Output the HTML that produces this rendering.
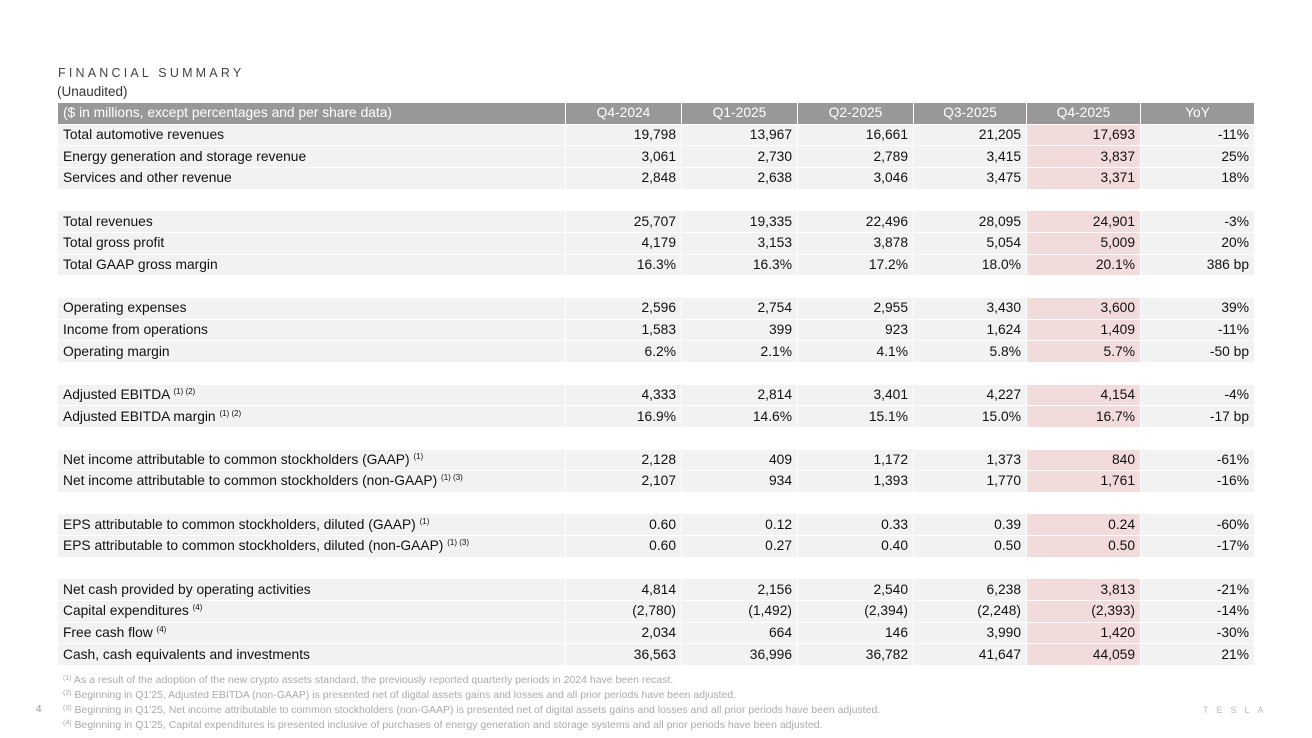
<!DOCTYPE html>
<html><head><meta charset="utf-8"><style>
body{margin:0;width:1312px;height:738px;background:#fff;font-family:"Liberation Sans",sans-serif;position:relative;overflow:hidden;color:#111}
.t{position:absolute;left:58px;top:66px;font-size:12.5px;letter-spacing:3.2px;color:#444}
.u{position:absolute;left:57px;top:84px;font-size:13.5px;color:#333}
table{position:absolute;left:57px;top:102px;width:1198px;border-collapse:separate;border-spacing:1px;table-layout:fixed}
tr{height:20.66px}
td{height:20.66px;padding:0 5px;font-size:13.8px;background:#f2f2f2;text-align:right;white-space:nowrap;line-height:18px;overflow:hidden;box-sizing:border-box}
td:first-child{text-align:left}
td.h{background:#989898;color:#fff;text-align:center}
td.h:first-child{text-align:left}
td.r{background:#f2dcdb}
tr.b td{background:#fff}
sup{font-size:8px;line-height:0;vertical-align:baseline;position:relative;top:-5px}
.f{position:absolute;left:63px;font-size:10.5px;color:#aaa;white-space:nowrap}
.f sup{font-size:7px;top:-3px}
</style></head><body>
<div class="t">FINANCIAL SUMMARY</div>
<div class="u">(Unaudited)</div>
<table>
<colgroup><col style="width:507px"><col style="width:115px"><col style="width:115px"><col style="width:115px"><col style="width:112px"><col style="width:113px"><col style="width:113px"></colgroup>
<tr><td class="h">($ in millions, except percentages and per share data)</td><td class="h">Q4-2024</td><td class="h">Q1-2025</td><td class="h">Q2-2025</td><td class="h">Q3-2025</td><td class="h">Q4-2025</td><td class="h">YoY</td></tr>
<tr><td>Total automotive revenues</td><td>19,798</td><td>13,967</td><td>16,661</td><td>21,205</td><td class="r">17,693</td><td>-11%</td></tr>
<tr><td>Energy generation and storage revenue</td><td>3,061</td><td>2,730</td><td>2,789</td><td>3,415</td><td class="r">3,837</td><td>25%</td></tr>
<tr><td>Services and other revenue</td><td>2,848</td><td>2,638</td><td>3,046</td><td>3,475</td><td class="r">3,371</td><td>18%</td></tr>
<tr class="b"><td></td><td></td><td></td><td></td><td></td><td></td><td></td></tr>
<tr><td>Total revenues</td><td>25,707</td><td>19,335</td><td>22,496</td><td>28,095</td><td class="r">24,901</td><td>-3%</td></tr>
<tr><td>Total gross profit</td><td>4,179</td><td>3,153</td><td>3,878</td><td>5,054</td><td class="r">5,009</td><td>20%</td></tr>
<tr><td>Total GAAP gross margin</td><td>16.3%</td><td>16.3%</td><td>17.2%</td><td>18.0%</td><td class="r">20.1%</td><td>386 bp</td></tr>
<tr class="b"><td></td><td></td><td></td><td></td><td></td><td></td><td></td></tr>
<tr><td>Operating expenses</td><td>2,596</td><td>2,754</td><td>2,955</td><td>3,430</td><td class="r">3,600</td><td>39%</td></tr>
<tr><td>Income from operations</td><td>1,583</td><td>399</td><td>923</td><td>1,624</td><td class="r">1,409</td><td>-11%</td></tr>
<tr><td>Operating margin</td><td>6.2%</td><td>2.1%</td><td>4.1%</td><td>5.8%</td><td class="r">5.7%</td><td>-50 bp</td></tr>
<tr class="b"><td></td><td></td><td></td><td></td><td></td><td></td><td></td></tr>
<tr><td>Adjusted EBITDA <sup>(1) (2)</sup></td><td>4,333</td><td>2,814</td><td>3,401</td><td>4,227</td><td class="r">4,154</td><td>-4%</td></tr>
<tr><td>Adjusted EBITDA margin <sup>(1) (2)</sup></td><td>16.9%</td><td>14.6%</td><td>15.1%</td><td>15.0%</td><td class="r">16.7%</td><td>-17 bp</td></tr>
<tr class="b"><td></td><td></td><td></td><td></td><td></td><td></td><td></td></tr>
<tr><td>Net income attributable to common stockholders (GAAP) <sup>(1)</sup></td><td>2,128</td><td>409</td><td>1,172</td><td>1,373</td><td class="r">840</td><td>-61%</td></tr>
<tr><td>Net income attributable to common stockholders (non-GAAP) <sup>(1) (3)</sup></td><td>2,107</td><td>934</td><td>1,393</td><td>1,770</td><td class="r">1,761</td><td>-16%</td></tr>
<tr class="b"><td></td><td></td><td></td><td></td><td></td><td></td><td></td></tr>
<tr><td>EPS attributable to common stockholders, diluted (GAAP) <sup>(1)</sup></td><td>0.60</td><td>0.12</td><td>0.33</td><td>0.39</td><td class="r">0.24</td><td>-60%</td></tr>
<tr><td>EPS attributable to common stockholders, diluted (non-GAAP) <sup>(1) (3)</sup></td><td>0.60</td><td>0.27</td><td>0.40</td><td>0.50</td><td class="r">0.50</td><td>-17%</td></tr>
<tr class="b"><td></td><td></td><td></td><td></td><td></td><td></td><td></td></tr>
<tr><td>Net cash provided by operating activities</td><td>4,814</td><td>2,156</td><td>2,540</td><td>6,238</td><td class="r">3,813</td><td>-21%</td></tr>
<tr><td>Capital expenditures <sup>(4)</sup></td><td>(2,780)</td><td>(1,492)</td><td>(2,394)</td><td>(2,248)</td><td class="r">(2,393)</td><td>-14%</td></tr>
<tr><td>Free cash flow <sup>(4)</sup></td><td>2,034</td><td>664</td><td>146</td><td>3,990</td><td class="r">1,420</td><td>-30%</td></tr>
<tr><td>Cash, cash equivalents and investments</td><td>36,563</td><td>36,996</td><td>36,782</td><td>41,647</td><td class="r">44,059</td><td>21%</td></tr>
</table>
<div class="f" style="top:674px"><sup>(1)</sup> As a result of the adoption of the new crypto assets standard, the previously reported quarterly periods in 2024 have been recast.</div>
<div class="f" style="top:689px"><sup>(2)</sup> Beginning in Q1'25, Adjusted EBITDA (non-GAAP) is presented net of digital assets gains and losses and all prior periods have been adjusted.</div>
<div class="f" style="top:704px"><sup>(3)</sup> Beginning in Q1'25, Net income attributable to common stockholders (non-GAAP) is presented net of digital assets gains and losses and all prior periods have been adjusted.</div>
<div class="f" style="top:719px"><sup>(4)</sup> Beginning in Q1'25, Capital expenditures is presented inclusive of purchases of energy generation and storage systems and all prior periods have been adjusted.</div>
<div style="position:absolute;left:36px;top:704px;font-size:10px;color:#999">4</div>
<div style="position:absolute;left:1203px;top:705px;font-size:9px;color:#bbb;letter-spacing:8px">TESLA</div>
</body></html>
